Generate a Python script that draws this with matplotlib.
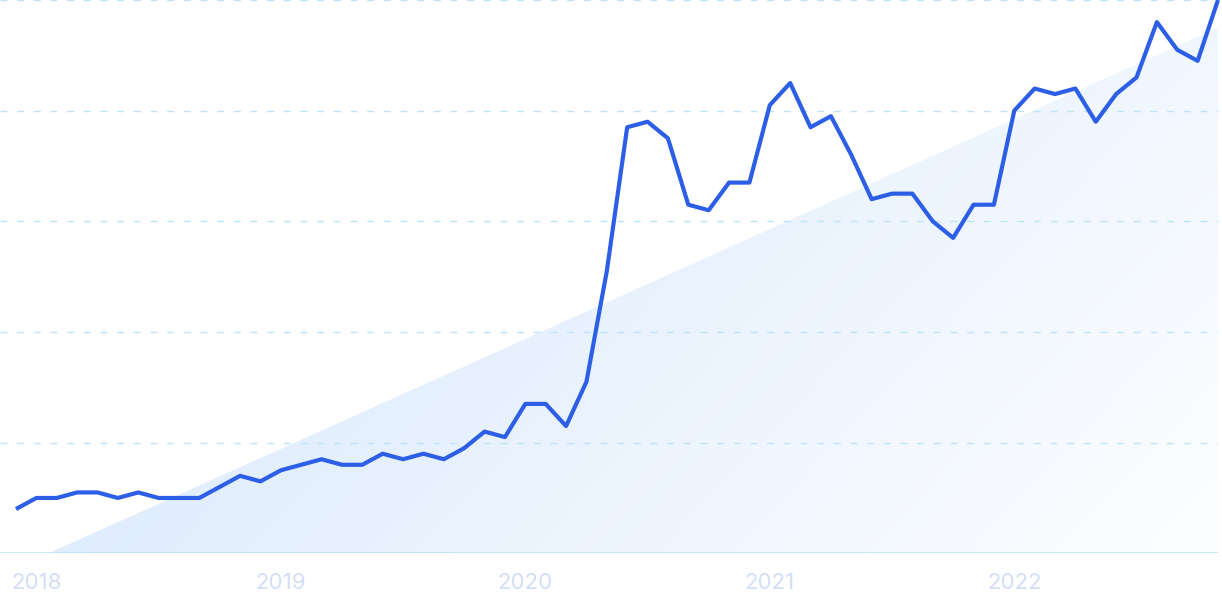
import matplotlib
matplotlib.use('Agg')
import matplotlib.pyplot as plt
import numpy as np
from matplotlib.patches import Polygon

# monthly index values (Dec 2017 .. Nov 2022), scale 0-100
values = [8, 10, 10, 11, 11, 10, 11, 10, 10, 10,
          12, 14, 13, 15, 16, 17, 16, 16, 18, 17,
          18, 17, 19, 22, 21, 27, 27, 23, 31, 51,
          77, 78, 75, 63, 62, 67, 67, 81, 85, 77,
          79, 72, 64, 65, 65, 60, 57, 63, 63, 80,
          84, 83, 84, 78, 83, 86, 96, 91, 89, 100]
months = list(range(len(values)))
year_labels = ['2018', '2019', '2020', '2021', '2022']
year_ticks = [1, 13, 25, 37, 49]
trend_x = [1.6, 59]
trend_y = [0, 95]
grid_levels = [20, 40, 60, 80, 100]

plt.rcParams['font.family'] = ['Inter', 'DejaVu Sans']

fig = plt.figure(figsize=(12.22, 6.10), dpi=100)
ax = fig.add_axes([0, 56.7 / 610, 1218 / 1222, 553.3 / 610])
xmin, xmax = -0.785, 59

# gradient fill for trend triangle
nx, ny = 300, 150
xf = np.linspace(0, 1, nx)[None, :]
yf = np.linspace(0, 1, ny)[:, None]
t = np.clip(0.7 * xf + 0.3 * (1 - yf), 0, 1)
c0 = np.array([210, 229, 252]) / 255.0
c1 = np.array([253, 254, 255]) / 255.0
img = c0[None, None, :] * (1 - t[..., None]) + c1[None, None, :] * t[..., None]
im = ax.imshow(img, extent=[xmin, xmax, 0, 100], origin='lower', aspect='auto',
               zorder=1, interpolation='bilinear')
tri = Polygon([(trend_x[0], trend_y[0]), (trend_x[1], trend_y[1]), (trend_x[1], 0)],
              closed=True, transform=ax.transData, facecolor='none', edgecolor='none')
im.set_clip_path(tri)

for g in grid_levels:
    ax.axhline(g, color='#bfe3f9', lw=1.0, dashes=(5, 7), zorder=2, clip_on=False)
ax.axhline(0, color='#bde1f9', lw=1.2, zorder=2)

ax.plot(months, values, color='#2d5fe6', lw=3, solid_joinstyle='round',
        solid_capstyle='butt', zorder=3, clip_on=False)

ax.set_xlim(xmin, xmax)
ax.set_ylim(0, 100)
for s in ax.spines.values():
    s.set_visible(False)
ax.set_yticks([])
ax.set_xticks(year_ticks)
ax.set_xticklabels(year_labels)
ax.tick_params(axis='x', length=0, pad=14, labelsize=16, labelcolor='#d2ddf8')
ax.set_facecolor('none')
fig.patch.set_facecolor('white')

fig.savefig('out.png', dpi=100)
